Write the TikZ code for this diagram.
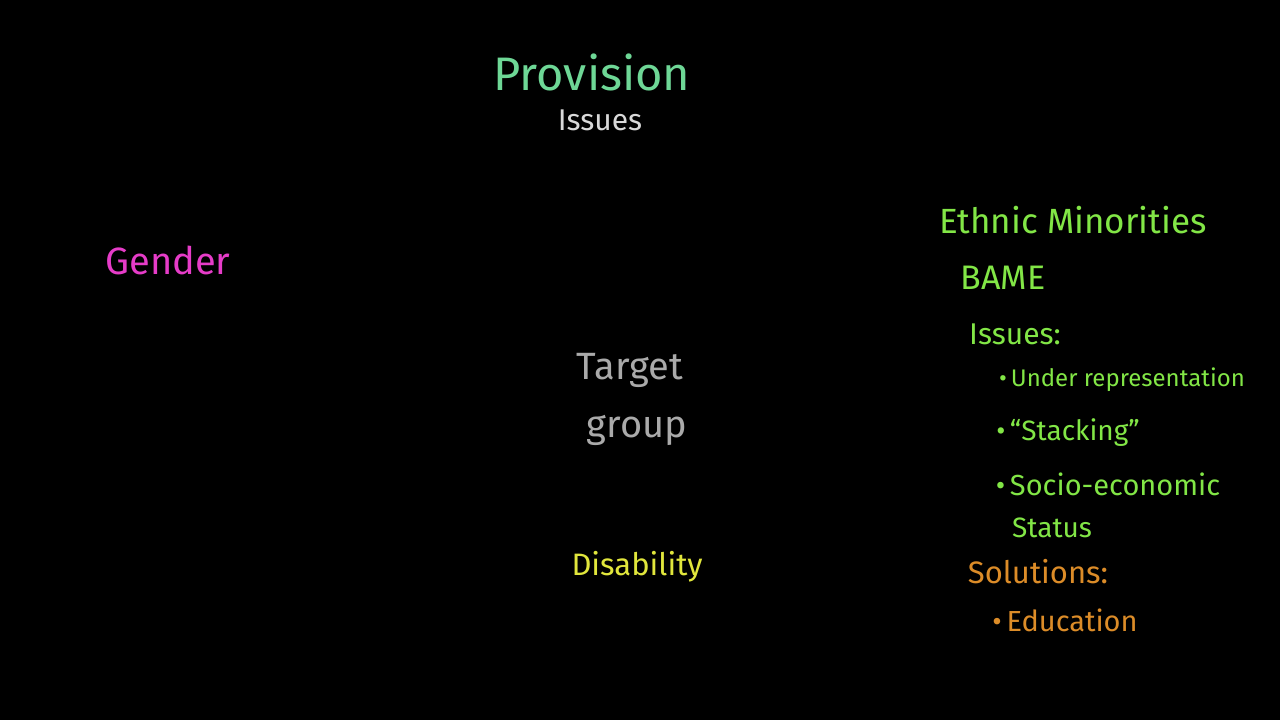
\documentclass[tikz,border=0pt]{standalone}
\usepackage{fontspec}
\setmainfont{Fira Sans}
\definecolor{mint}{RGB}{110,215,150}
\definecolor{lgreen}{RGB}{130,230,70}
\definecolor{mag}{RGB}{230,60,200}
\definecolor{yel}{RGB}{225,230,60}
\definecolor{org}{RGB}{220,140,40}
\definecolor{gry}{RGB}{170,170,170}
\tikzset{lbl/.style={inner sep=0pt,anchor=center},
fs/.style={font=\fontsize{#1}{#1}\selectfont}}
\begin{document}
\begin{tikzpicture}[x=1pt,y=-1pt]
\fill[black] (0,0) rectangle (1280,720);
\node[lbl,fs=47,text=mint] (prov) at (592,72) {Provision};
\node[lbl,fs=30,text=white!85!black] (iss) at (600,120) {Issues};
\node[lbl,fs=38,text=mag] (gen) at (168,260) {Gender};
\node[lbl,fs=38,text=gry] (tg) at (630,370) {Target};
\node[lbl,fs=38,text=gry] (gr) at (637,430) {group};
\node[lbl,fs=31,text=yel] (dis) at (637,567) {Disability};
\node[lbl,fs=35,text=lgreen] (em) at (1073,220) {Ethnic Minorities};
\node[lbl,fs=34,text=lgreen] (bame) at (1003,278) {BAME};
\node[lbl,fs=30,text=lgreen] (i2) at (1015,334) {Issues:};
\node[lbl,fs=24,text=lgreen] (u) at (1122,380) {\textbullet\,Under representation};
\node[lbl,fs=28,text=lgreen] (st) at (1068,433) {\textbullet\,``Stacking''};
\node[lbl,fs=29,text=lgreen] (se) at (1108,484) {\textbullet\,Socio-economic};
\node[lbl,fs=28,text=lgreen] (sta) at (1052,528) {Status};
\node[lbl,fs=31,text=org] (sol) at (1038,572) {Solutions:};
\node[lbl,fs=29,text=org] (ed) at (1065,620) {\textbullet\,Education};
\end{tikzpicture}
\end{document}
